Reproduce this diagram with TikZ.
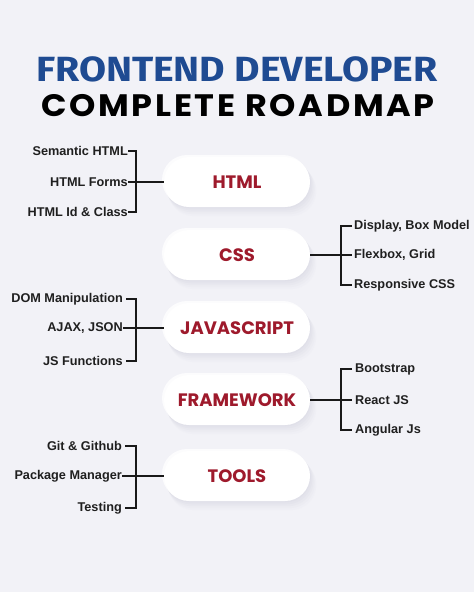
\documentclass[tikz,border=0pt]{standalone}
\usepackage{fontspec}
\setmainfont{Fira Sans}
\newfontfamily\titleA{Fira Sans}
\newfontfamily\titleB{Poppins}[LetterSpace=8]
\newfontfamily\pillfont{Poppins}
\newfontfamily\labfont{Liberation Sans}
\definecolor{bgc}{HTML}{F2F2F7}
\definecolor{tblue}{HTML}{1F4B92}
\definecolor{pred}{HTML}{9E1A2C}
\definecolor{shd}{HTML}{C9CAD6}
\tikzset{
  pill/.style={fill=white, rounded corners=25pt, minimum width=146pt, minimum height=50pt, inner sep=0pt,
     font=\pillfont\bfseries\fontsize{18}{18}\selectfont, text=pred},
  lab/.style={font=\labfont\bfseries\fontsize{12.7}{14}\selectfont, text=black!88, inner sep=0pt},
  conn/.style={line width=1.6pt, black!90},
}
\newcommand{\pillshadow}[2]{%
  \foreach \k/\o in {7/0.05,5.5/0.07,4/0.09,2.5/0.11,1/0.12}{%
    \fill[shd, opacity=\o, rounded corners=25pt] (#1-73+\k*0.6, #2-25+\k*1.2) rectangle (#1+73+\k*0.9, #2+25+\k*1.3);}%
  \fill[white, opacity=0.8, rounded corners=25pt] (#1-75, #2-27) rectangle (#1+71, #2+23);
}
\begin{document}
\begin{tikzpicture}[x=1pt,y=-1pt]
\fill[bgc] (0,0) rectangle (474,592);
\useasboundingbox (0,0) rectangle (474,592);
\node[text=tblue, font=\titleA\bfseries\fontsize{35}{35}\selectfont, inner sep=0pt, xscale=1.12] (t1) at (237,69) {FRONTEND DEVELOPER};
\node[text=black, font=\titleB\bfseries\fontsize{31}{31}\selectfont, inner sep=0pt, xscale=1.08] (t2) at (238,106) {COMPLETE ROADMAP};

\pillshadow{237}{182}
\pillshadow{237}{255}
\pillshadow{237}{328}
\pillshadow{237}{400}
\pillshadow{237}{476}
\node[pill] (html) at (237,182) {HTML};
\node[pill] (css) at (237,255) {CSS};
\node[pill] (js) at (237,328) {JAVASCRIPT};
\node[pill] (fw) at (237,400) {FRAMEWORK};
\node[pill] (tools) at (237,476) {TOOLS};

% HTML
\node[lab, anchor=east] (h1) at (128,151) {Semantic HTML};
\node[lab, anchor=east] (h2) at (128,182) {HTML Forms};
\node[lab, anchor=east] (h3) at (128,212) {HTML Id \& Class};
\coordinate (hb1) at (136,151); \coordinate (hb3) at (136,212);
\draw[conn] (h1.east) -- (hb1) -- (hb3) -- (h3.east);
\draw[conn] (h2.east) -- (html.west);

% CSS
\node[lab, anchor=west] (c1) at (354,226) {Display, Box Model};
\node[lab, anchor=west] (c2) at (354,255) {Flexbox, Grid};
\node[lab, anchor=west] (c3) at (354,285) {Responsive CSS};
\coordinate (cb1) at (341,226); \coordinate (cb3) at (341,285);
\draw[conn] ([xshift=-2pt]c1.west) -- (cb1) -- (cb3) -- ([xshift=-2pt]c3.west);
\draw[conn] (css.east) -- ([xshift=-2pt]c2.west);

% JS
\node[lab, anchor=east] (j1) at (123,299) {DOM Manipulation};
\node[lab, anchor=east] (j2) at (123,328) {AJAX, JSON};
\node[lab, anchor=east] (j3) at (123,361) {JS Functions};
\coordinate (jb1) at (136,299); \coordinate (jb3) at (136,361);
\draw[conn] ([xshift=3pt]j1.east) -- (jb1) -- (jb3) -- ([xshift=3pt]j3.east);
\draw[conn] (j2.east) -- (js.west);

% FRAMEWORK
\node[lab, anchor=west] (f1) at (355,369) {Bootstrap};
\node[lab, anchor=west] (f2) at (355,400) {React JS};
\node[lab, anchor=west] (f3) at (355,430) {Angular Js};
\coordinate (fb1) at (341,369); \coordinate (fb3) at (341,430);
\draw[conn] ([xshift=-3pt]f1.west) -- (fb1) -- (fb3) -- ([xshift=-3pt]f3.west);
\draw[conn] (fw.east) -- ([xshift=-3pt]f2.west);

% TOOLS
\node[lab, anchor=east] (o1) at (122,446) {Git \& Github};
\node[lab, anchor=east] (o2) at (122,476) {Package Manager};
\node[lab, anchor=east] (o3) at (122,508) {Testing};
\coordinate (ob1) at (136,446); \coordinate (ob3) at (136,508);
\draw[conn] ([xshift=3pt]o1.east) -- (ob1) -- (ob3) -- ([xshift=3pt]o3.east);
\draw[conn] (o2.east) -- (tools.west);
\end{tikzpicture}
\end{document}
